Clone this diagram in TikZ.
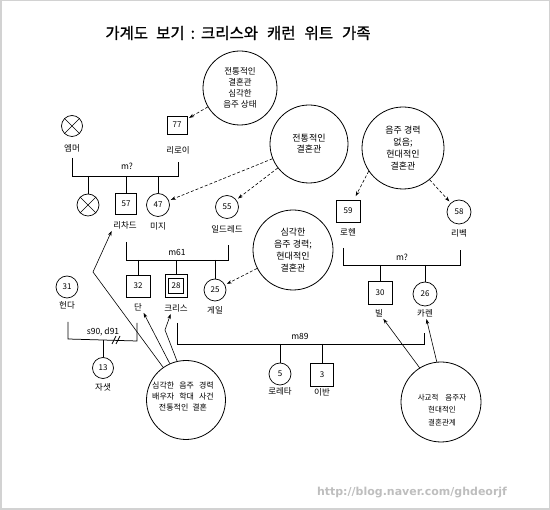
\documentclass[tikz,border=0pt]{standalone}
\usepackage{fontspec}
\setmainfont{Noto Sans CJK KR}
\newfontfamily\titlefnt[FakeBold=1]{Noto Sans CJK KR}
\newfontfamily\urlfnt{DejaVu Sans}
\usetikzlibrary{arrows.meta}
\definecolor{framegray}{RGB}{210,210,210}
\definecolor{urlgray}{RGB}{190,190,190}
\newcommand{\lblsz}{\fontsize{8.5}{9}\selectfont}
\newcommand{\numsz}{\fontsize{8}{9}\selectfont}
\begin{document}
\begin{tikzpicture}[x=1pt,y=-1pt,
  every node/.style={inner sep=0pt},
  lw/.style={line width=0.7pt},
  famline/.style={line width=0.75pt},
  person/.style={draw, line width=0.7pt, font=\numsz, inner sep=0pt},
  fcirc/.style={person, circle, minimum size=23pt},
  mbox/.style={person, rectangle, minimum width=22pt, minimum height=21pt},
  xcirc/.style={person, circle, minimum size=21pt},
  pname/.style={font=\lblsz, inner sep=1pt},
  bubble/.style={circle, draw, line width=0.8pt, align=center, inner sep=0pt},
  btext/.style={align=center, inner sep=0pt},
  darr/.style={densely dashed, line width=0.6pt, -{Stealth[length=5pt,width=3.5pt]}, shorten >=2pt},
  sarr/.style={line width=0.6pt, -{Stealth[length=5pt,width=3.5pt]}, shorten >=1pt}
]
\useasboundingbox (0,0) rectangle (550,510);
\draw[framegray, line width=1.5pt] (0.75,0.75) rectangle (549.25,509.25);

% title
\node[font=\titlefnt\fontsize{15.5}{17}\selectfont] (title) at (238,33) {가계도\hspace{8pt}보기\hspace{6pt}:\hspace{6pt}크리스와\hspace{9pt}캐런\hspace{9pt}위트\hspace{9pt}가족};

% generation 1
\node[xcirc] (emma) at (72,126) {};
\draw[lw] (emma.45) -- (emma.225) (emma.135) -- (emma.315);
\node[pname] (emmaL) at (72,148) {엠머};
\node[mbox, minimum width=20pt, minimum height=18pt] (leroy) at (177,125) {77};
\node[pname] (leroyL) at (178,150) {리로이};

\coordinate (f1a) at (72,158);
\coordinate (f1L) at (72,176);
\coordinate (f1R) at (178,176);
\coordinate (f1b) at (178,162);
\draw[famline] (f1a) -- (f1L) -- (f1R) -- (f1b);
\node[pname] (m1) at (127,166) {m?};

% generation 2
\node[xcirc, minimum size=22pt] (sib1) at (88,205) {};
\draw[lw] (sib1.45) -- (sib1.225) (sib1.135) -- (sib1.315);
\node[mbox, minimum width=21pt, minimum height=21pt] (richard) at (126,204) {57};
\node[pname] (richardL) at (125,225) {리차드};
\node[fcirc] (mitzi) at (158,205) {47};
\node[pname] (mitziL) at (158,226) {미지};
\node[fcirc] (mildred) at (227,207) {55};
\node[pname] (mildredL) at (227,229) {일드레드};
\draw[famline] (sib1 |- f1L) -- (sib1);
\draw[famline] (richard |- f1L) -- (richard);
\draw[famline] (mitzi |- f1L) -- (mitzi);

% m61 family
\coordinate (f2a) at (126,242);
\coordinate (f2L) at (126,260);
\coordinate (f2R) at (228,260);
\coordinate (f2b) at (228,245);
\draw[famline] (f2a) -- (f2L) -- (f2R) -- (f2b);
\node[pname] (m2) at (177,252) {m61};

\node[mbox, minimum width=24pt, minimum height=22pt] (dan) at (138,286) {32};
\node[pname] (danL) at (138,307) {단};
\node[person, rectangle, minimum width=22pt, minimum height=23pt] (chris) at (176,286) {};
\node[person, rectangle, minimum size=15pt, line width=0.6pt] (chrisIn) at (176,286) {28};
\node[pname] (chrisL) at (176,308) {크리스};
\node[fcirc, minimum size=22pt] (gail) at (215,290) {25};
\node[pname] (gailL) at (215,310) {게일};
\draw[famline] (dan |- f2L) -- (dan);
\draw[famline] (chris |- f2L) -- (chris);
\draw[famline] (gail |- f2L) -- (gail);

% Loren / Rebecca
\node[mbox, minimum width=24pt, minimum height=22pt] (loren) at (348,211) {59};
\node[pname] (lorenL) at (348,232) {로헨};
\node[fcirc, minimum size=24pt] (rebecca) at (459,212) {58};
\node[pname] (rebeccaL) at (459,233) {리벡};
\coordinate (f3a) at (343,248);
\coordinate (f3L) at (343,265);
\coordinate (f3R) at (460,265);
\coordinate (f3b) at (460,250);
\draw[famline] (f3a) -- (f3L) -- (f3R) -- (f3b);
\node[pname] (m3) at (402,257) {m?};
\node[mbox, minimum width=24pt, minimum height=23pt] (bill) at (380,293) {30};
\node[pname] (billL) at (379,313) {빌};
\node[fcirc, minimum size=24pt] (karen) at (425,294) {26};
\node[pname] (karenL) at (425,313) {카렌};
\draw[famline] (bill |- f3L) -- (bill);
\draw[famline] (karen |- f3L) -- (karen);

% Hunda / Dan divorce
\node[fcirc, minimum size=22pt] (hunda) at (67,287) {31};
\node[pname] (hundaL) at (67,305) {헌다};
\coordinate (f4a) at (68,322);
\coordinate (f4L) at (68,339);
\coordinate (f4R) at (137,341);
\coordinate (f4b) at (137,323);
\draw[famline] (f4a) -- (f4L) -- (f4R) -- (f4b);
\node[pname, fill=white] (m4) at (103,332) {s90, d91};
\draw[lw] (112,344) -- (116,336) (116,344) -- (120,336);
\node[fcirc, minimum size=21pt] (janet) at (103,368) {13};
\node[pname] (janetL) at (103,387) {자샛};
\coordinate (f4m) at (103,340);
\draw[famline] (f4m) -- (janet);

% Chris / Karen m89
\coordinate (f5a) at (177,323);
\coordinate (f5L) at (177,344);
\coordinate (f5R) at (424,344);
\coordinate (f5b) at (424,333);
\draw[famline] (f5a) -- (f5L) -- (f5R) -- (f5b);
\node[pname] (m5) at (300,336) {m89};
\node[fcirc, minimum size=22pt] (loretta) at (280,374) {5};
\node[pname] (lorettaL) at (280,391) {로레타};
\node[mbox, minimum width=23pt, minimum height=23pt] (ivan) at (322,375) {3};
\node[pname] (ivanL) at (322,392) {이반};
\draw[famline] (loretta |- f5L) -- (loretta);
\draw[famline] (ivan |- f5L) -- (ivan);

% bubbles
\node[bubble, minimum size=74pt, font=\fontsize{8.5}{11.2}\selectfont] (b1) at (240,88) {전통적인\\결혼관\\심각한\\음주 상태};
\node[bubble, minimum size=78pt, font=\fontsize{9}{11}\selectfont] (b2) at (309,144) {전통적인\\결혼관};
\node[bubble, minimum size=80pt, font=\fontsize{9}{11.8}\selectfont] (b3) at (293,250) {심각한\\음주 경력;\\현대적인\\결혼관};
\node[bubble, minimum size=82pt, font=\fontsize{9}{11.8}\selectfont] (b4) at (403,148) {음주 경력\\없음;\\현대적인\\결혼관};
\node[bubble, minimum size=80pt] (b5) at (441,402) {};
\node[btext, font=\fontsize{7.5}{12.5}\selectfont] (b5t) at (442,410) {사교적\hspace{7pt}음주자\\현대적인\\결혼관계};
\node[bubble, minimum size=79pt] (b6) at (186,400) {};
\node[btext, font=\fontsize{8}{11}\selectfont] (b6t) at (183,397) {심각한\hspace{5pt}음주\hspace{5pt}경력\\배우자\hspace{5pt}학대\hspace{5pt}사건\\전통적인\hspace{4pt}결혼};

% arrows
\draw[darr] (b1) -- (leroy);
\draw[darr] (b2) -- (mitzi);
\draw[darr] (b2) -- (mildred);
\draw[darr] (b3) -- (gail);
\draw[darr, shorten >=4pt] (b4.214) -- (loren);
\draw[darr] (b4.310) -- (rebecca);
\draw[sarr] (b5.122) -- (billL);
\draw[sarr] (b5.96) -- (karenL);
\coordinate (k1) at (93,272);
\draw[sarr] (b6.125) -- (k1) -- (richardL.south west);
\draw[sarr] (b6.114) -- (danL.south east);
\coordinate (k2) at (165,330);
\draw[sarr] (b6.103) -- (k2) -- ([xshift=-5pt]chrisL.south);

% watermark
\node[font=\urlfnt\bfseries\fontsize{11}{13}\selectfont, text=urlgray] (url) at (412,493) {http://blog.naver.com/ghdeorjf};
\end{tikzpicture}
\end{document}
